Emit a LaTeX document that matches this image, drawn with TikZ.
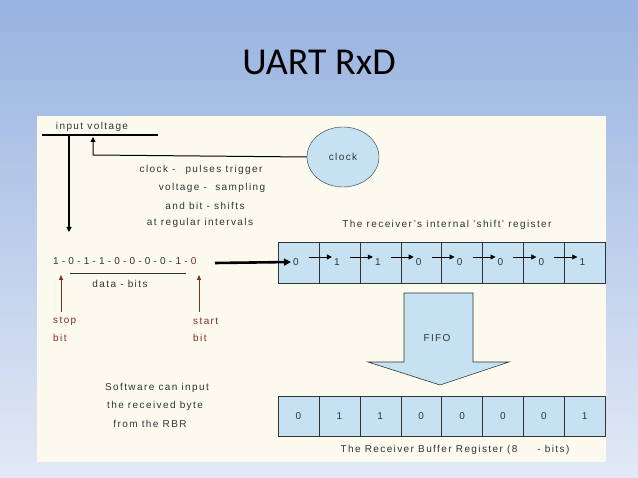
\documentclass[tikz,border=0pt]{standalone}
\usepackage{fontspec}
\setmainfont{Liberation Sans}
\newfontfamily\titlefont{Carlito}
\usetikzlibrary{arrows.meta,shapes.geometric}
\definecolor{cream}{HTML}{FCF9EF}
\definecolor{lblue}{HTML}{C6E2F2}
\definecolor{ink}{HTML}{333333}
\definecolor{brn}{HTML}{8B2A22}
\tikzset{
 txt/.style={font=\fontsize{10}{11}\selectfont\addfontfeature{LetterSpace=14},text=ink,inner sep=0pt},
 cell/.style={draw=ink,fill=lblue,minimum width=40.9pt,minimum height=41pt,inner sep=0pt,outer sep=0pt},
 ln/.style={draw=black,line width=1.2pt},
 arr/.style={-{Triangle[length=5pt,width=5pt]},line width=0.8pt},
}
\newcommand\hy{\kern3.2pt-\kern3.2pt}
\begin{document}
\begin{tikzpicture}[x=1pt,y=-1pt]
\shade[top color={rgb,255:red,152;green,179;blue,224},bottom color={rgb,255:red,226;green,233;blue,246}] (0,0) rectangle (638,478);
\useasboundingbox (0,0) rectangle (638,478);
\node[font=\titlefont\fontsize{38}{42}\selectfont] (title) at (319,62) {UART RxD};
\fill[cream] (37,116) rectangle (606,462);
% input voltage
\node[txt] (iv) at (92,127) {input voltage};
\coordinate (ivl) at (42,135); \coordinate (ivr) at (158,135);
\draw[ln] (ivl) -- (ivr);
\node[ellipse,draw=ink,fill=lblue,minimum width=72pt,minimum height=60pt,inner sep=0pt] (clk) at (343,157) {};
\node[txt] at (clk) {clock};
\coordinate (ctop) at (93,137);
\draw[arr,line width=1pt] (clk.west) -- (93,155) -- (ctop);
\coordinate (vtop) at (69,135); \coordinate (vbot) at (69,232);
\draw[arr,line width=1.2pt] (vtop) -- (vbot);
\node[txt] (t1) at (201,170) {clock -\quad pulses trigger};
\node[txt] (t2) at (212,188) {voltage -\ \ sampling};
\node[txt] (t3) at (205,206) {and bit - shifts};
\node[txt] (t4) at (200,223) {at regular intervals};
\node[txt] (t5) at (447,225) {The receiver's internal 'shift' register};
% bits
\node[txt,anchor=west] (bits) at (53,261) {1\hy 0\hy 1\hy 1\hy 0\hy 0\hy 0\hy 0\hy 1\hy \textcolor{brn}{0}};
\coordinate (dl) at (70,273); \coordinate (dr) at (186,273);
\draw[ink,line width=0.8pt] (dl) -- (dr);
\node[txt] (db) at (120,284) {data - bits};
\coordinate (sb) at (61,312); \coordinate (st) at (61,275);
\coordinate (ab) at (199,312); \coordinate (at2) at (199,275);
\draw[brn,-{Triangle[length=5pt,width=4pt]},line width=0.8pt] (sb) -- (st);
\draw[brn,-{Triangle[length=5pt,width=4pt]},line width=0.8pt] (ab) -- (at2);
\node[txt,text=brn,anchor=west] at (53,321) {stop};
\node[txt,text=brn,anchor=west] at (53,338) {bit};
\node[txt,text=brn,anchor=west] at (193,321) {start};
\node[txt,text=brn,anchor=west] at (193,338) {bit};
% shift register
\foreach \i/\b in {0/0,1/1,2/1,3/0,4/0,5/0,6/0,7/1}{
  \node[cell] (s\i) at ({278+40.9*\i+20.45},262.5) {};
  \node[txt,anchor=west] (sd\i) at ({278+40.9*\i+15},262) {\b};
}
\coordinate (bin) at (215,263);
\draw[-{Triangle[length=7pt,width=7pt]},line width=2.6pt] (bin) -- ([xshift=-2pt]sd0.west);
\foreach \i [evaluate=\i as \j using int(\i+1)] in {0,...,6}{
  \draw[arr,line width=0.6pt] ([xshift=10pt,yshift=5pt]sd\i.east) -- ([xshift=-2pt,yshift=5pt]sd\j.west);
}
% FIFO
\draw[ink,fill=lblue,line width=0.6pt] (404,293) -- (473,293) -- (473,362) -- (509,362) -- (440,385) -- (368,362) -- (404,362) -- cycle;
\node[txt] (fifo) at (437,338) {FIFO};
% buffer
\foreach \i/\b in {0/0,1/1,2/1,3/0,4/0,5/0,6/0,7/1}{
  \node[cell,minimum height=40pt] (r\i) at ({278+40.9*\i+20.45},416) {};
  \node[txt] at (r\i) {\b};
}
\node[txt] (bl) at (455,450) {The Receiver Buffer Register (8\qquad - bits)};
\node[txt] at (157,388) {Software can input};
\node[txt] at (155,406) {the received byte};
\node[txt] at (150,424) {from the RBR};
\end{tikzpicture}
\end{document}
